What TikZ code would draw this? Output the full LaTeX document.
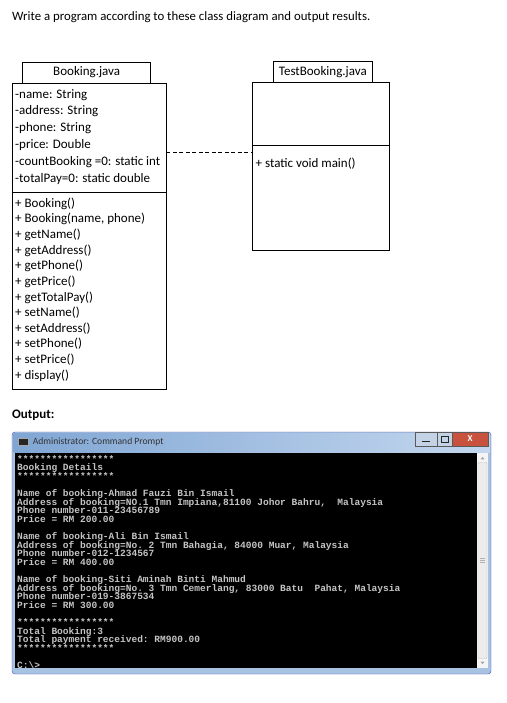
\documentclass[tikz,border=0pt]{standalone}
\usepackage{fontspec}
\setmainfont{Carlito}
\newfontfamily\consolefont{Liberation Mono}
\usetikzlibrary{positioning,calc}

\definecolor{winframe}{RGB}{168,194,226}
\definecolor{titleleft}{RGB}{128,166,212}
\definecolor{titleright}{RGB}{196,215,238}
\definecolor{closered}{RGB}{200,82,62}
\definecolor{btngray}{RGB}{196,210,230}
\definecolor{consoletext}{RGB}{196,196,196}
\newcommand\consolestyle{\consolefont\bfseries\fontsize{9.53}{8.6}\selectfont\frenchspacing\lineskiplimit=-20pt\relax}

\begin{document}
\begin{tikzpicture}[x=1pt, y=-1pt,
    classbox/.style={rectangle, draw, line width=0.8pt, inner sep=0pt},
    members/.style={anchor=north west, align=left, inner sep=0pt},
    assoc/.style={line width=1.3pt, dash pattern=on 4pt off 2.5pt},
    winbtn/.style={rectangle, draw=gray!70!black, line width=0.4pt, minimum height=14pt, inner sep=0pt}]
      \useasboundingbox (0,0) rectangle (506,703);
      \fontsize{13}{15}\selectfont

      % Task text
      \node[anchor=west, inner sep=0pt, font=\fontsize{12.8}{15}\selectfont] (task) at (12,17) {Write a program according to these class diagram and output results.};

      % Class Booking
      \node[classbox, minimum width=154pt, minimum height=306pt] (booking) at (89,236) {};
      \node[classbox, minimum width=128pt, minimum height=21pt] (bookingname) at (86.7,72.5) {Booking.java};
      \node[members, font=\fontsize{13}{16.8}\selectfont] (bookingattr) at (15,89) {-name: String\\-address: String\\-phone: String\\-price: Double\\-countBooking =0: static int\\-totalPay=0: static double};
      \node[members, font=\fontsize{13}{15.64}\selectfont] (bookingops) at (15,197.5) {+ Booking()\\+ Booking(name, phone)\\+ getName()\\+ getAddress()\\+ getPhone()\\+ getPrice()\\+ getTotalPay()\\+ setName()\\+ setAddress()\\+ setPhone()\\+ setPrice()\\+ display()};
      \coordinate (bookingsep) at (0,192.7);
      \draw[line width=0.8pt] (booking.west |- bookingsep) -- (booking.east |- bookingsep);

      % Class TestBooking
      \node[classbox, minimum width=136.7pt, minimum height=167.7pt] (test) at (320.7,166.2) {};
      \node[classbox, minimum width=99pt, minimum height=20.6pt] (testname) at (322.8,72) {TestBooking.java};
      \node[members] (testops) at (255.5,158) {+ static void main()};
      \coordinate (testsep) at (0,145);
      \draw[line width=0.8pt] (test.west |- testsep) -- (test.east |- testsep);

      % Dependency
      \coordinate (link) at (0,152.7);
      \draw[assoc] (booking.east |- link) -- (test.west |- link);

      % Output
      \node[anchor=west, inner sep=0pt, font=\bfseries] (outlabel) at (12,415) {Output:};

      % Console window
      \node[rectangle, rounded corners=3pt, draw=gray!60!blue, fill=winframe, minimum width=479pt, minimum height=242pt, inner sep=0pt] (window) at (251.5,553) {};
      \node[rectangle, left color=titleleft, right color=titleright, minimum width=476pt, minimum height=19pt, inner sep=0pt] (titlebar) at (251.5,442.5) {};
      \node[rectangle, fill=black!85, draw=gray!70, minimum width=10pt, minimum height=7pt, inner sep=0pt] (icon) at (23.5,442) {};
      \node[right=4pt of icon, inner sep=0pt, text=black!80, font=\fontsize{9.6}{10}\selectfont] (wintitle) {Administrator: Command Prompt};
      \node[winbtn, fill=btngray, minimum width=22pt] (minbtn) at (426,439) {};
      \node[winbtn, fill=btngray, minimum width=15pt] (maxbtn) at (444.5,439) {};
      \node[winbtn, fill=closered, minimum width=36pt, text=white, font=\bfseries\fontsize{9}{9}\selectfont] (closebtn) at (470,439) {X};
      \draw[line width=1.6pt, gray!30!black] ($(minbtn.center)+(-4,2.5)$) -- ($(minbtn.center)+(4,2.5)$);
      \draw[line width=0.9pt, gray!30!black] ($(maxbtn.center)+(-3.5,-3)$) rectangle ($(maxbtn.center)+(3.5,3)$);

      \node[rectangle, fill=black, minimum width=462pt, minimum height=215pt, inner sep=0pt] (screen) at (246,560.5) {};
      \node[rectangle, fill=gray!8, minimum width=11pt, minimum height=215pt, inner sep=0pt] (scrollbar) at (482.5,560.5) {};
      \node[rectangle, fill=gray!15, draw=gray!50, rounded corners=1pt, minimum width=9pt, minimum height=196pt, inner sep=0pt] (thumb) at (482.5,560.5) {};
      \fill[gray!70] ($(scrollbar.north)+(-2,6.5)$) -- ($(scrollbar.north)+(2,6.5)$) -- ($(scrollbar.north)+(0,4)$) -- cycle;
      \fill[gray!70] ($(scrollbar.south)+(-2,-6.5)$) -- ($(scrollbar.south)+(2,-6.5)$) -- ($(scrollbar.south)+(0,-4)$) -- cycle;
      \draw[gray!60, line width=0.4pt] ($(thumb.center)+(-2.5,-2)$) -- ($(thumb.center)+(2.5,-2)$) ($(thumb.center)+(-2.5,0)$) -- ($(thumb.center)+(2.5,0)$) ($(thumb.center)+(-2.5,2)$) -- ($(thumb.center)+(2.5,2)$);

      % Program output
      \node[members, text=consoletext, font=\consolestyle] (console) at (17,455) {*****************\\
Booking Details\\
*****************\\
\mbox{}\\
Name of booking-Ahmad Fauzi Bin Ismail\\
Address of booking=NO.1 Tmn Impiana,81100 Johor Bahru,\ \ Malaysia\\
Phone number-011-23456789\\
Price = RM 200.00\\
\mbox{}\\
Name of booking-Ali Bin Ismail\\
Address of booking=No. 2 Tmn Bahagia, 84000 Muar, Malaysia\\
Phone number-012-1234567\\
Price = RM 400.00\\
\mbox{}\\
Name of booking-Siti Aminah Binti Mahmud\\
Address of booking=No. 3 Tmn Cemerlang, 83000 Batu\ \ Pahat, Malaysia\\
Phone number-019-3867534\\
Price = RM 300.00\\
\mbox{}\\
*****************\\
Total Booking:3\\
Total payment received: RM900.00\\
*****************\\
\mbox{}\\
C:\textbackslash>\_};
    \end{tikzpicture}
\end{document}
